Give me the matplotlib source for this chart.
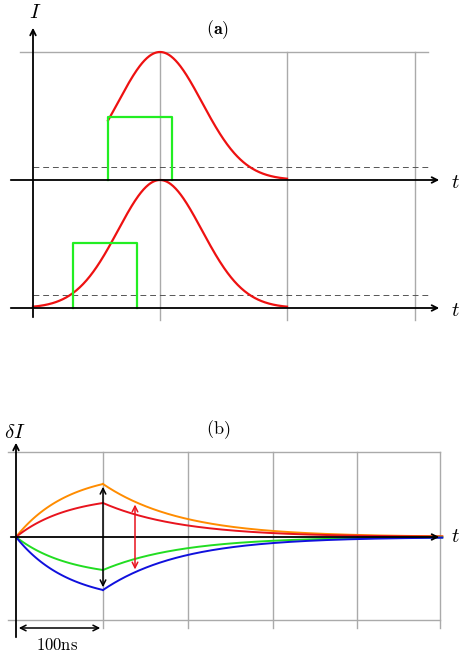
import numpy as np
import matplotlib.pyplot as plt

plt.rcParams['mathtext.fontset'] = 'cm'
plt.rcParams['font.family'] = 'DejaVu Serif'

# panel (a): gaussian pulses and gate windows (pixel layout)
pulse_centers = [160, 160]
pulse_baselines = [180, 308]
pulse_heights = [128, 128]
pulse_starts = [108, 33]
gate_left = [108, 73]
gate_right = [172, 137]
gate_top = [117, 243]
dashed_levels = [167, 295]

# panel (b): response curves, peak amplitude (px) at t = 100 ns
resp_colors = ['#ff8c00', '#e8141e', '#22dd22', '#1010dd']
resp_peaks = [53, 34, -33, -53]
t_rise = 60.0
t_decay = 90.0

fig = plt.figure(figsize=(4.74, 6.54), dpi=100)
ax = fig.add_axes([0, 0, 1, 1])
ax.set_xlim(0, 474)
ax.set_ylim(654, 0)
ax.axis('off')

gray = '#aaaaaa'
# ---- panel (a)
ax.plot([20, 428], [52, 52], color=gray, lw=1)
for x in [160, 287, 415]:
    ax.plot([x, x], [52, 320], color=gray, lw=1)
for k in range(2):
    base = pulse_baselines[k]
    ax.plot([33, 428], [dashed_levels[k]] * 2, color='#555555', lw=0.7, ls=(0, (6, 4)))
    x = np.linspace(pulse_starts[k], 287, 300)
    sig = 42.0
    y = base - pulse_heights[k] * np.exp(-0.5 * ((x - pulse_centers[k]) / sig) ** 2)
    ax.plot(x, y, color='#ee1111', lw=1.6)
    ax.plot([gate_left[k], gate_left[k], gate_right[k], gate_right[k]],
            [base, gate_top[k], gate_top[k], base], color='#22ee22', lw=1.6)
    ax.annotate('', xy=(442, base), xytext=(8, base),
                arrowprops=dict(arrowstyle='->', lw=1.3, color='black'))
    ax.text(455, base + 2, '$t$', fontsize=15, ha='center', va='center')
ax.annotate('', xy=(33, 25), xytext=(33, 320),
            arrowprops=dict(arrowstyle='->', lw=1.3, color='black'))
ax.text(35, 12, '$I$', fontsize=15, ha='center', va='center')
ax.text(218, 30, r'$\mathbf{(a)}$', fontsize=13, ha='center', va='center')

# ---- panel (b)
x0, y0, s = 16, 537, 0.87
for x in [103, 188, 273, 357, 440]:
    ax.plot([x, x], [452, 628], color=gray, lw=1)
for y in [452, 620]:
    ax.plot([8, 440], [y, y], color=gray, lw=1)
t1 = np.linspace(0, 100, 100)
t2 = np.linspace(100, 490, 300)
for c, p in zip(resp_colors, resp_peaks):
    r = (1 - np.exp(-t1 / t_rise)) / (1 - np.exp(-100 / t_rise))
    ax.plot(x0 + s * t1, y0 - p * r, color=c, lw=1.4)
    ax.plot(x0 + s * t2, y0 - p * np.exp(-(t2 - 100) / t_decay), color=c, lw=1.4)
ax.annotate('', xy=(442, y0), xytext=(8, y0),
            arrowprops=dict(arrowstyle='->', lw=1.3, color='black'))
ax.text(455, y0, '$t$', fontsize=15, ha='center', va='center')
ax.annotate('', xy=(x0, 440), xytext=(x0, 640),
            arrowprops=dict(arrowstyle='->', lw=1.3, color='black'))
ax.text(15, 433, r'$\delta I$', fontsize=15, ha='center', va='center')
ax.text(218, 430, r'$\mathrm{(b)}$', fontsize=13, ha='center', va='center')
ax.annotate('', xy=(103, y0 - resp_peaks[0]), xytext=(103, y0 - resp_peaks[3]),
            arrowprops=dict(arrowstyle='<->', lw=1.1, color='black'))
tr = (135 - x0) / s
ax.annotate('', xy=(135, y0 - resp_peaks[0] * np.exp(-(tr - 100) / t_decay)),
            xytext=(135, y0 - resp_peaks[3] * np.exp(-(tr - 100) / t_decay)),
            arrowprops=dict(arrowstyle='<->', lw=1.1, color='#e8141e'))
ax.annotate('', xy=(103, 628), xytext=(x0, 628),
            arrowprops=dict(arrowstyle='<->', lw=1.1, color='black'))
ax.text(57, 645, r'$\mathrm{100ns}$', fontsize=12, ha='center', va='center')

fig.savefig('out.png', dpi=100)
